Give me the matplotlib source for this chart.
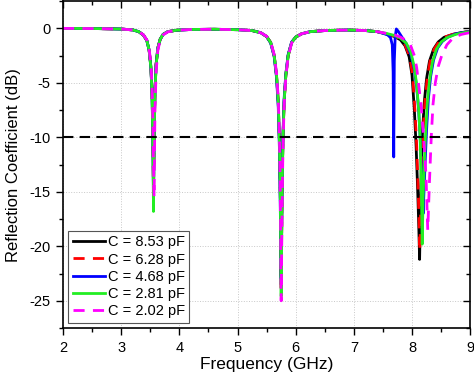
import matplotlib
matplotlib.use("Agg")
import matplotlib.pyplot as plt
from matplotlib.ticker import MultipleLocator

plt.rcParams['font.family'] = ['Liberation Sans', 'DejaVu Sans']
plt.rcParams['axes.unicode_minus'] = False

# ---- data ----
f_low = [2.0, 2.6, 3.0, 3.2, 3.3, 3.38, 3.44, 3.48, 3.51, 3.53, 3.545, 3.555, 3.565, 3.58,
         3.6, 3.63, 3.67, 3.72, 3.8, 3.95, 4.2, 4.6, 5.0, 5.25, 5.4, 5.5, 5.57, 5.63, 5.67,
         5.7, 5.72, 5.735, 5.75, 5.765, 5.78, 5.8, 5.83, 5.87, 5.93, 6.0, 6.1, 6.25, 6.5,
         6.9, 7.2, 7.4]

black_low = [0.0, -0.02, -0.06, -0.14, -0.3, -0.6, -1.1, -2.0, -3.5, -5.8, -10.0, -15.0, -10.0,
             -5.8, -3.3, -1.8, -1.0, -0.55, -0.3, -0.17, -0.1, -0.08, -0.12, -0.2, -0.4, -0.75,
             -1.3, -2.5, -4.3, -6.8, -10.3, -15.0, -23.5, -15.0, -10.3, -6.8, -4.3, -2.5, -1.3,
             -0.8, -0.5, -0.3, -0.2, -0.15, -0.2, -0.3]
red_low = [0.0, -0.02, -0.06, -0.14, -0.3, -0.6, -1.1, -2.0, -3.5, -5.8, -10.0, -15.2, -10.2,
           -5.9, -3.3, -1.8, -1.0, -0.55, -0.3, -0.17, -0.1, -0.08, -0.12, -0.2, -0.4, -0.75,
           -1.3, -2.5, -4.3, -6.8, -10.3, -15.2, -23.8, -15.2, -10.3, -6.8, -4.3, -2.5, -1.3,
           -0.8, -0.5, -0.3, -0.2, -0.15, -0.2, -0.3]
blue_low = [0.0, -0.02, -0.06, -0.14, -0.3, -0.6, -1.1, -2.0, -3.6, -6.0, -10.3, -15.5, -10.0,
            -5.8, -3.3, -1.8, -1.0, -0.55, -0.3, -0.17, -0.1, -0.08, -0.12, -0.2, -0.4, -0.75,
            -1.35, -2.6, -4.5, -7.2, -11.0, -16.5, -23.0, -14.5, -10.0, -6.5, -4.2, -2.4, -1.25,
            -0.8, -0.5, -0.3, -0.2, -0.15, -0.2, -0.3]
green_low = [0.0, -0.02, -0.06, -0.14, -0.3, -0.6, -1.1, -2.0, -3.6, -6.0, -10.5, -16.8, -10.5,
             -6.0, -3.4, -1.8, -1.0, -0.55, -0.3, -0.17, -0.1, -0.08, -0.12, -0.2, -0.4, -0.75,
             -1.3, -2.5, -4.3, -6.8, -10.5, -15.5, -24.6, -15.5, -10.5, -6.8, -4.3, -2.5, -1.3,
             -0.8, -0.5, -0.3, -0.2, -0.15, -0.2, -0.3]
mag_low = [0.0, -0.02, -0.06, -0.14, -0.3, -0.58, -1.05, -1.9, -3.2, -5.2, -8.5, -12.5, -15.5,
           -7.5, -4.0, -2.0, -1.1, -0.6, -0.32, -0.17, -0.1, -0.08, -0.12, -0.2, -0.4, -0.72,
           -1.25, -2.4, -4.1, -6.4, -9.8, -14.8, -25.0, -17.0, -11.2, -7.2, -4.5, -2.6, -1.35,
           -0.82, -0.5, -0.3, -0.2, -0.15, -0.2, -0.3]

f_hi_black = [7.55, 7.7, 7.8, 7.88, 7.95, 8.0, 8.04, 8.07, 8.095, 8.115, 8.13, 8.145, 8.16,
              8.18, 8.21, 8.25, 8.3, 8.37, 8.45, 8.55, 8.7, 8.85, 9.0]
black_hi = [-0.5, -0.75, -1.05, -1.6, -2.6, -4.3, -7.5, -10.8, -14.5, -18.0, -21.2, -16.5, -12.5,
            -9.5, -6.8, -4.6, -3.0, -1.9, -1.25, -0.82, -0.55, -0.38, -0.28]

f_hi_red = [7.55, 7.7, 7.8, 7.88, 7.96, 8.01, 8.05, 8.08, 8.1, 8.12, 8.135, 8.15, 8.17,
            8.19, 8.22, 8.26, 8.31, 8.38, 8.46, 8.56, 8.7, 8.85, 9.0]
red_hi = [-0.5, -0.72, -1.0, -1.5, -2.6, -4.3, -7.5, -10.8, -14.0, -17.5, -20.4, -16.0, -12.2,
          -9.5, -6.8, -4.6, -3.0, -1.9, -1.25, -0.8, -0.55, -0.38, -0.28]

f_hi_blue = [7.5, 7.58, 7.63, 7.66, 7.675, 7.685, 7.695, 7.71, 7.73, 7.76, 7.82, 7.9, 7.98, 8.04,
             8.08, 8.115, 8.14, 8.16, 8.175, 8.19, 8.205, 8.225, 8.25, 8.28, 8.32, 8.37, 8.44,
             8.52, 8.62, 8.75, 8.88, 9.0]
blue_hi = [-0.45, -0.6, -0.85, -1.5, -4.0, -11.8, -3.0, -0.8, -0.05, -0.25, -0.75, -1.4, -2.4,
           -3.8, -5.4, -7.6, -10.0, -12.8, -15.0, -17.0, -15.0, -12.3, -9.3, -6.5, -4.4, -2.9,
           -1.8, -1.2, -0.8, -0.5, -0.38, -0.28]

f_hi_green = [7.55, 7.7, 7.8, 7.9, 7.98, 8.04, 8.08, 8.115, 8.14, 8.155, 8.165, 8.175, 8.19,
              8.21, 8.23, 8.26, 8.3, 8.35, 8.42, 8.5, 8.6, 8.75, 8.88, 9.0]
green_hi = [-0.45, -0.65, -0.9, -1.35, -2.2, -3.6, -5.2, -7.5, -10.2, -13.5, -16.5, -19.8, -15.5,
            -12.5, -10.0, -7.0, -4.8, -3.1, -1.9, -1.25, -0.85, -0.55, -0.4, -0.3]

f_hi_mag = [7.55, 7.7, 7.8, 7.9, 7.97, 8.04, 8.08, 8.11, 8.16, 8.2, 8.24, 8.27, 8.3, 8.33,
            8.36, 8.4, 8.45, 8.51, 8.6, 8.71, 8.85, 9.0]
mag_hi = [-0.45, -0.6, -0.8, -1.1, -1.5, -2.5, -3.6, -5.0, -7.3, -10.0, -13.5, -18.5, -14.0,
          -10.0, -7.0, -5.0, -3.5, -2.5, -1.5, -0.85, -0.55, -0.38]

labels = ["C = 8.53 pF", "C = 6.28 pF", "C = 4.68 pF", "C = 2.81 pF", "C = 2.02 pF"]
threshold = -10

series = [
    (f_low + f_hi_black, black_low + black_hi, '#000000', '-'),
    (f_low + f_hi_red, red_low + red_hi, '#ff0000', (0, (4, 3))),
    (f_low + f_hi_blue, blue_low + blue_hi, '#0000ff', '-'),
    (f_low + f_hi_green, green_low + green_hi, '#22ee22', '-'),
    (f_low + f_hi_mag, mag_low + mag_hi, '#ff00ff', (0, (4, 3))),
]

fig = plt.figure(figsize=(4.74, 3.81), dpi=100)
ax = fig.add_axes([0.133, 0.139, 0.859, 0.858])

ax.grid(True, which='major', color='#c8c8c8', linestyle=':', linewidth=0.7)
ax.set_axisbelow(True)

for (fx, fy, col, ls), lab in zip(series, labels):
    ax.plot(fx, fy, color=col, linestyle=ls, linewidth=2.0, label=lab)

ax.axhline(threshold, color='black', linestyle=(0, (5, 3)), linewidth=1.5)

ax.set_xlim(2, 9)
ax.set_ylim(-27.5, 2.5)
ax.xaxis.set_major_locator(MultipleLocator(1))
ax.xaxis.set_minor_locator(MultipleLocator(0.5))
ax.yaxis.set_major_locator(MultipleLocator(5))
ax.yaxis.set_minor_locator(MultipleLocator(2.5))

ax.tick_params(which='both', top=True, right=True, labelsize=10.5, width=1.0,
               direction='out', pad=4)
ax.tick_params(which='major', length=5)
ax.tick_params(which='minor', length=3)
for t in ax.xaxis.get_major_ticks() + ax.xaxis.get_minor_ticks():
    t.tick1line.set_marker(3)  # bottom: pointing down (outward)
    t.tick2line.set_marker(3)  # top: pointing down (inward)
for t in ax.yaxis.get_major_ticks() + ax.yaxis.get_minor_ticks():
    t.tick1line.set_marker(0)  # left: pointing left (outward)
    t.tick2line.set_marker(0)  # right: pointing left (inward)

for sp in ax.spines.values():
    sp.set_linewidth(1.2)

ax.set_xlabel("Frequency (GHz)", fontsize=12.5, labelpad=2)
ax.set_ylabel("Reflection Coefficient (dB)", fontsize=12, labelpad=6)

leg = ax.legend(loc='lower left', bbox_to_anchor=(0.006, 0.008), fontsize=10.5,
                handlelength=2.2, handletextpad=0.2, labelspacing=0.22,
                borderpad=0.3, borderaxespad=0.2, fancybox=False, framealpha=1,
                edgecolor='#555555')
leg.get_frame().set_linewidth(0.8)

fig.savefig("out.png", dpi=100)
